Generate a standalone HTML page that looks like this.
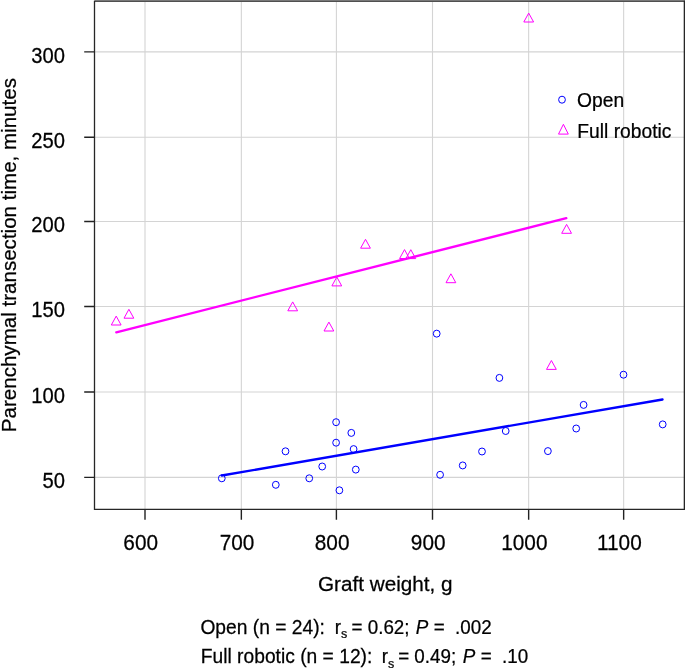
<!DOCTYPE html>
<html lang="en"><head><meta charset="utf-8"><title>Parenchymal transection time vs graft weight</title>
<style>html,body{margin:0;padding:0;background:#fff}body{width:685px;height:669px;overflow:hidden}svg{display:block}text{stroke:#000;stroke-width:.25px}</style></head>
<body>
<svg width="685" height="669" viewBox="0 0 685 669" font-family="'Liberation Sans', sans-serif" fill="#000">
<rect width="685" height="669" fill="#fff"/>
<path d="M145.00 0.8V509.45M241.35 0.8V509.45M336.40 0.8V509.45M432.50 0.8V509.45M528.65 0.8V509.45M623.65 0.8V509.45M94.5 477.40H684.35M94.5 392.00H684.35M94.5 306.50H684.35M94.5 221.50H684.35M94.5 137.30H684.35M94.5 51.90H684.35" stroke="#d4d4d4" stroke-width="1.1" fill="none"/>
<path d="M145.00 509.45v10.3M241.35 509.45v10.3M336.40 509.45v10.3M432.50 509.45v10.3M528.65 509.45v10.3M623.65 509.45v10.3M94.5 477.40h-10.3M94.5 392.00h-10.3M94.5 306.50h-10.3M94.5 221.50h-10.3M94.5 137.30h-10.3M94.5 51.90h-10.3" stroke="#222" stroke-width="1.4" fill="none"/>
<line x1="116.3" y1="332.3" x2="566.3" y2="218.2" stroke="#ff00ff" stroke-width="2.4" stroke-linecap="round"/>
<line x1="221.8" y1="475.5" x2="662.5" y2="399.5" stroke="#0000ff" stroke-width="2.4" stroke-linecap="round"/>
<path d="M116.20 316.10L121.10 325.00H111.30ZM128.90 309.30L133.80 318.20H124.00ZM292.70 301.90L297.60 310.80H287.80ZM328.90 322.10L333.80 331.00H324.00ZM336.80 277.00L341.70 285.90H331.90ZM528.70 13.10L533.60 22.00H523.80ZM365.50 239.30L370.40 248.20H360.60ZM404.50 249.60L409.40 258.50H399.60ZM410.80 249.70L415.70 258.60H405.90ZM450.90 273.80L455.80 282.70H446.00ZM566.60 224.40L571.50 233.30H561.70ZM551.40 360.50L556.30 369.40H546.50ZM563.40 124.30L568.30 134.10H558.50Z" stroke="#ff00ff" stroke-width="1.0" fill="none"/>
<g stroke="#0000ff" stroke-width="1.0" fill="none"><ellipse cx="221.8" cy="478.3" rx="3.38" ry="3.5"/><ellipse cx="275.8" cy="484.8" rx="3.38" ry="3.5"/><ellipse cx="285.5" cy="451.3" rx="3.38" ry="3.5"/><ellipse cx="309.25" cy="478.3" rx="3.38" ry="3.5"/><ellipse cx="322.2" cy="466.5" rx="3.38" ry="3.5"/><ellipse cx="336.1" cy="422.2" rx="3.38" ry="3.5"/><ellipse cx="336.1" cy="442.7" rx="3.38" ry="3.5"/><ellipse cx="339.4" cy="490.3" rx="3.38" ry="3.5"/><ellipse cx="351.3" cy="432.9" rx="3.38" ry="3.5"/><ellipse cx="353.6" cy="449.1" rx="3.38" ry="3.5"/><ellipse cx="355.8" cy="469.6" rx="3.38" ry="3.5"/><ellipse cx="436.7" cy="333.65" rx="3.38" ry="3.5"/><ellipse cx="440.1" cy="474.8" rx="3.38" ry="3.5"/><ellipse cx="462.7" cy="465.45" rx="3.38" ry="3.5"/><ellipse cx="482.0" cy="451.5" rx="3.38" ry="3.5"/><ellipse cx="499.4" cy="377.9" rx="3.38" ry="3.5"/><ellipse cx="505.7" cy="431.0" rx="3.38" ry="3.5"/><ellipse cx="547.9" cy="451.1" rx="3.38" ry="3.5"/><ellipse cx="576.2" cy="428.5" rx="3.38" ry="3.5"/><ellipse cx="583.6" cy="404.9" rx="3.38" ry="3.5"/><ellipse cx="623.5" cy="374.7" rx="3.38" ry="3.5"/><ellipse cx="662.7" cy="424.4" rx="3.38" ry="3.5"/><ellipse cx="562" cy="99.7" rx="3.38" ry="3.5"/></g>
<rect x="94.5" y="0" width="590.5" height="1" fill="#787878"/><rect x="94.5" y="1" width="590.5" height="1" fill="#505050"/>
<path d="M94.5 0.8V509.45H684.35V0.8" fill="none" stroke="#262626" stroke-width="1.3"/>
<text transform="translate(140.70 549.6) scale(0.945 1)" font-size="22.0" text-anchor="middle">600</text>
<text transform="translate(237.05 549.6) scale(0.945 1)" font-size="22.0" text-anchor="middle">700</text>
<text transform="translate(332.10 549.6) scale(0.945 1)" font-size="22.0" text-anchor="middle">800</text>
<text transform="translate(428.20 549.6) scale(0.945 1)" font-size="22.0" text-anchor="middle">900</text>
<text transform="translate(524.35 549.6) scale(0.945 1)" font-size="22.0" text-anchor="middle">1000</text>
<text transform="translate(619.35 549.6) scale(0.945 1)" font-size="22.0" text-anchor="middle">1100</text>
<text transform="translate(64.9 488.05) scale(0.935 1)" font-size="21.6" text-anchor="end">50</text>
<text transform="translate(64.9 402.65) scale(0.935 1)" font-size="21.6" text-anchor="end">100</text>
<text transform="translate(64.9 317.15) scale(0.935 1)" font-size="21.6" text-anchor="end">150</text>
<text transform="translate(64.9 232.15) scale(0.935 1)" font-size="21.6" text-anchor="end">200</text>
<text transform="translate(64.9 147.95) scale(0.935 1)" font-size="21.6" text-anchor="end">250</text>
<text transform="translate(64.9 62.55) scale(0.935 1)" font-size="21.6" text-anchor="end">300</text>
<text transform="translate(385.3 591.2) scale(1.04 1)" font-size="19.9" text-anchor="middle">Graft weight, g</text>
<text transform="translate(15.9 255.1) rotate(-90) scale(1.026 1)" font-size="20.05" text-anchor="middle">Parenchymal transection time, minutes</text>
<text transform="translate(577.1 107.2) scale(0.953 1)" font-size="20.2">Open</text>
<text transform="translate(577.3 137.6) scale(0.953 1)" font-size="20.2">Full robotic</text>
<text transform="translate(200.4 633.6) scale(0.952 1)" font-size="20.2">Open (n = 24):</text>
<text transform="translate(334.8 633.6) scale(0.932 1)" font-size="20.2" xml:space="preserve">r<tspan font-size="13.4" dy="4.7">s</tspan><tspan dy="-4.7" dx="-1.1"> = 0.62; </tspan><tspan font-style="italic" dx="1.1">P</tspan> =  .002</text>
<text transform="translate(200.8 663.4) scale(0.952 1)" font-size="20.2">Full robotic (n = 12):</text>
<text transform="translate(381.8 663.4) scale(0.932 1)" font-size="20.2" xml:space="preserve">r<tspan font-size="13.4" dy="4.7">s</tspan><tspan dy="-4.7" dx="-1.5"> = 0.49; </tspan><tspan font-style="italic" dx="1.5">P</tspan> =  .10</text>
</svg>
</body></html>
